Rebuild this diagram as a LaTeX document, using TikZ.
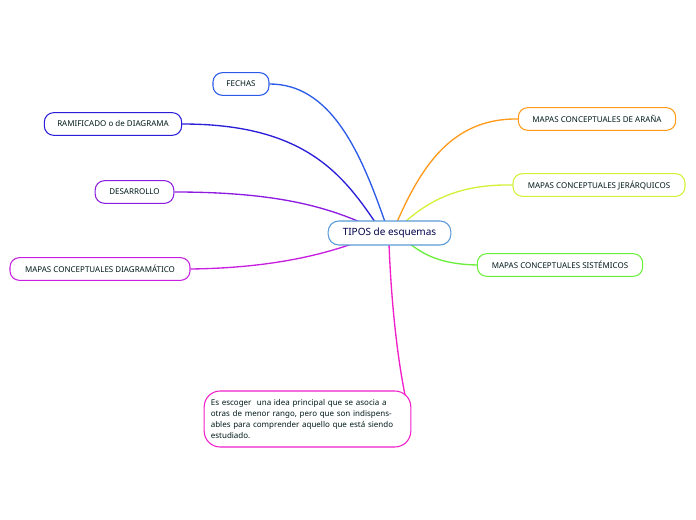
\documentclass[tikz,border=0pt]{standalone}
\usepackage{fontspec}
\setmainfont{Noto Sans}
\begin{document}
\begin{tikzpicture}[x=0.75pt,y=-0.75pt,
  box/.style={draw=#1,line width=0.8pt,rounded corners=7pt,fill=white,inner sep=0pt,font=\fontsize{6}{8}\selectfont,text=black!80!teal},
  con/.style={draw=#1,line width=1pt}]
\useasboundingbox (0,0) rectangle (696,520);
\definecolor{cblue}{HTML}{2B5BE8}\definecolor{cind}{HTML}{2A1ED8}\definecolor{cpur}{HTML}{8E1CE0}
\definecolor{cmag}{HTML}{C81FE0}\definecolor{cor}{HTML}{FF9A1A}\definecolor{cyel}{HTML}{D6F03A}
\definecolor{cgr}{HTML}{6AEE3A}\definecolor{cpink}{HTML}{F01FC8}\definecolor{ccen}{HTML}{5A9BD5}
\node[box=cblue,minimum width=56\pgflinewidth] (f) at (241,84) [minimum width=42pt,minimum height=17pt] {FECHAS};
\node[box=cind,minimum width=103pt,minimum height=17pt] (r) at (113,124) {RAMIFICADO o de DIAGRAMA};
\node[box=cpur,minimum width=59pt,minimum height=17pt] (d) at (134.5,192) {DESARROLLO};
\node[box=cmag,minimum width=135pt,minimum height=17pt] (m) at (100,269) {MAPAS CONCEPTUALES DIAGRAMÁTICO};
\node[box=cor,minimum width=118pt,minimum height=17pt] (a) at (597,119) {MAPAS CONCEPTUALES DE ARAÑA};
\node[box=cyel,minimum width=129pt,minimum height=17pt] (j) at (599,185) {MAPAS CONCEPTUALES JERÁRQUICOS};
\node[box=cgr,minimum width=124pt,minimum height=17pt] (s) at (560,265) {MAPAS CONCEPTUALES SISTÉMICOS};
\node[box=cpink,rounded corners=12pt,minimum width=155pt,minimum height=42pt,text width=145pt,align=left,font=\fontsize{6}{8.2}\selectfont] (t) at (307.5,419) {Es escoger\ \ una idea principal que se asocia a otras de menor rango, pero que son indispensables para comprender aquello que está siendo estudiado.};
\coordinate (c1) at (385,222);\coordinate (c2) at (375,222);\coordinate (c3) at (360,222);
\coordinate (c4) at (352,244);\coordinate (c5) at (397,222);\coordinate (c6) at (405,222);
\coordinate (c7) at (410,244);\coordinate (c8) at (389,244);\coordinate (t1) at (405,395);
\draw[con=cblue] (f.east) .. controls (330,84) and (360,150) .. (c1);
\draw[con=cind] (r.east) .. controls (300,124) and (340,170) .. (c2);
\draw[con=cpur] (d.east) .. controls (270,192) and (320,205) .. (c3);
\draw[con=cmag] (m.east) .. controls (270,268) and (320,255) .. (c4);
\draw[con=cor] (a.west) .. controls (450,118) and (420,170) .. (c5);
\draw[con=cyel] (j.west) .. controls (460,184) and (430,200) .. (c6);
\draw[con=cgr] (s.west) .. controls (440,264) and (425,255) .. (c7);
\draw[con=cpink] (c8) .. controls (392,320) and (400,370) .. (t1);
\node[draw=ccen,line width=0.8pt,rounded corners=8pt,fill=white,minimum width=92pt,minimum height=18pt,inner sep=0pt,font=\fontsize{7.5}{9}\selectfont\bfseries,text=black!70!blue] (c) at (389.5,233) {TIPOS de esquemas};
\end{tikzpicture}
\end{document}
